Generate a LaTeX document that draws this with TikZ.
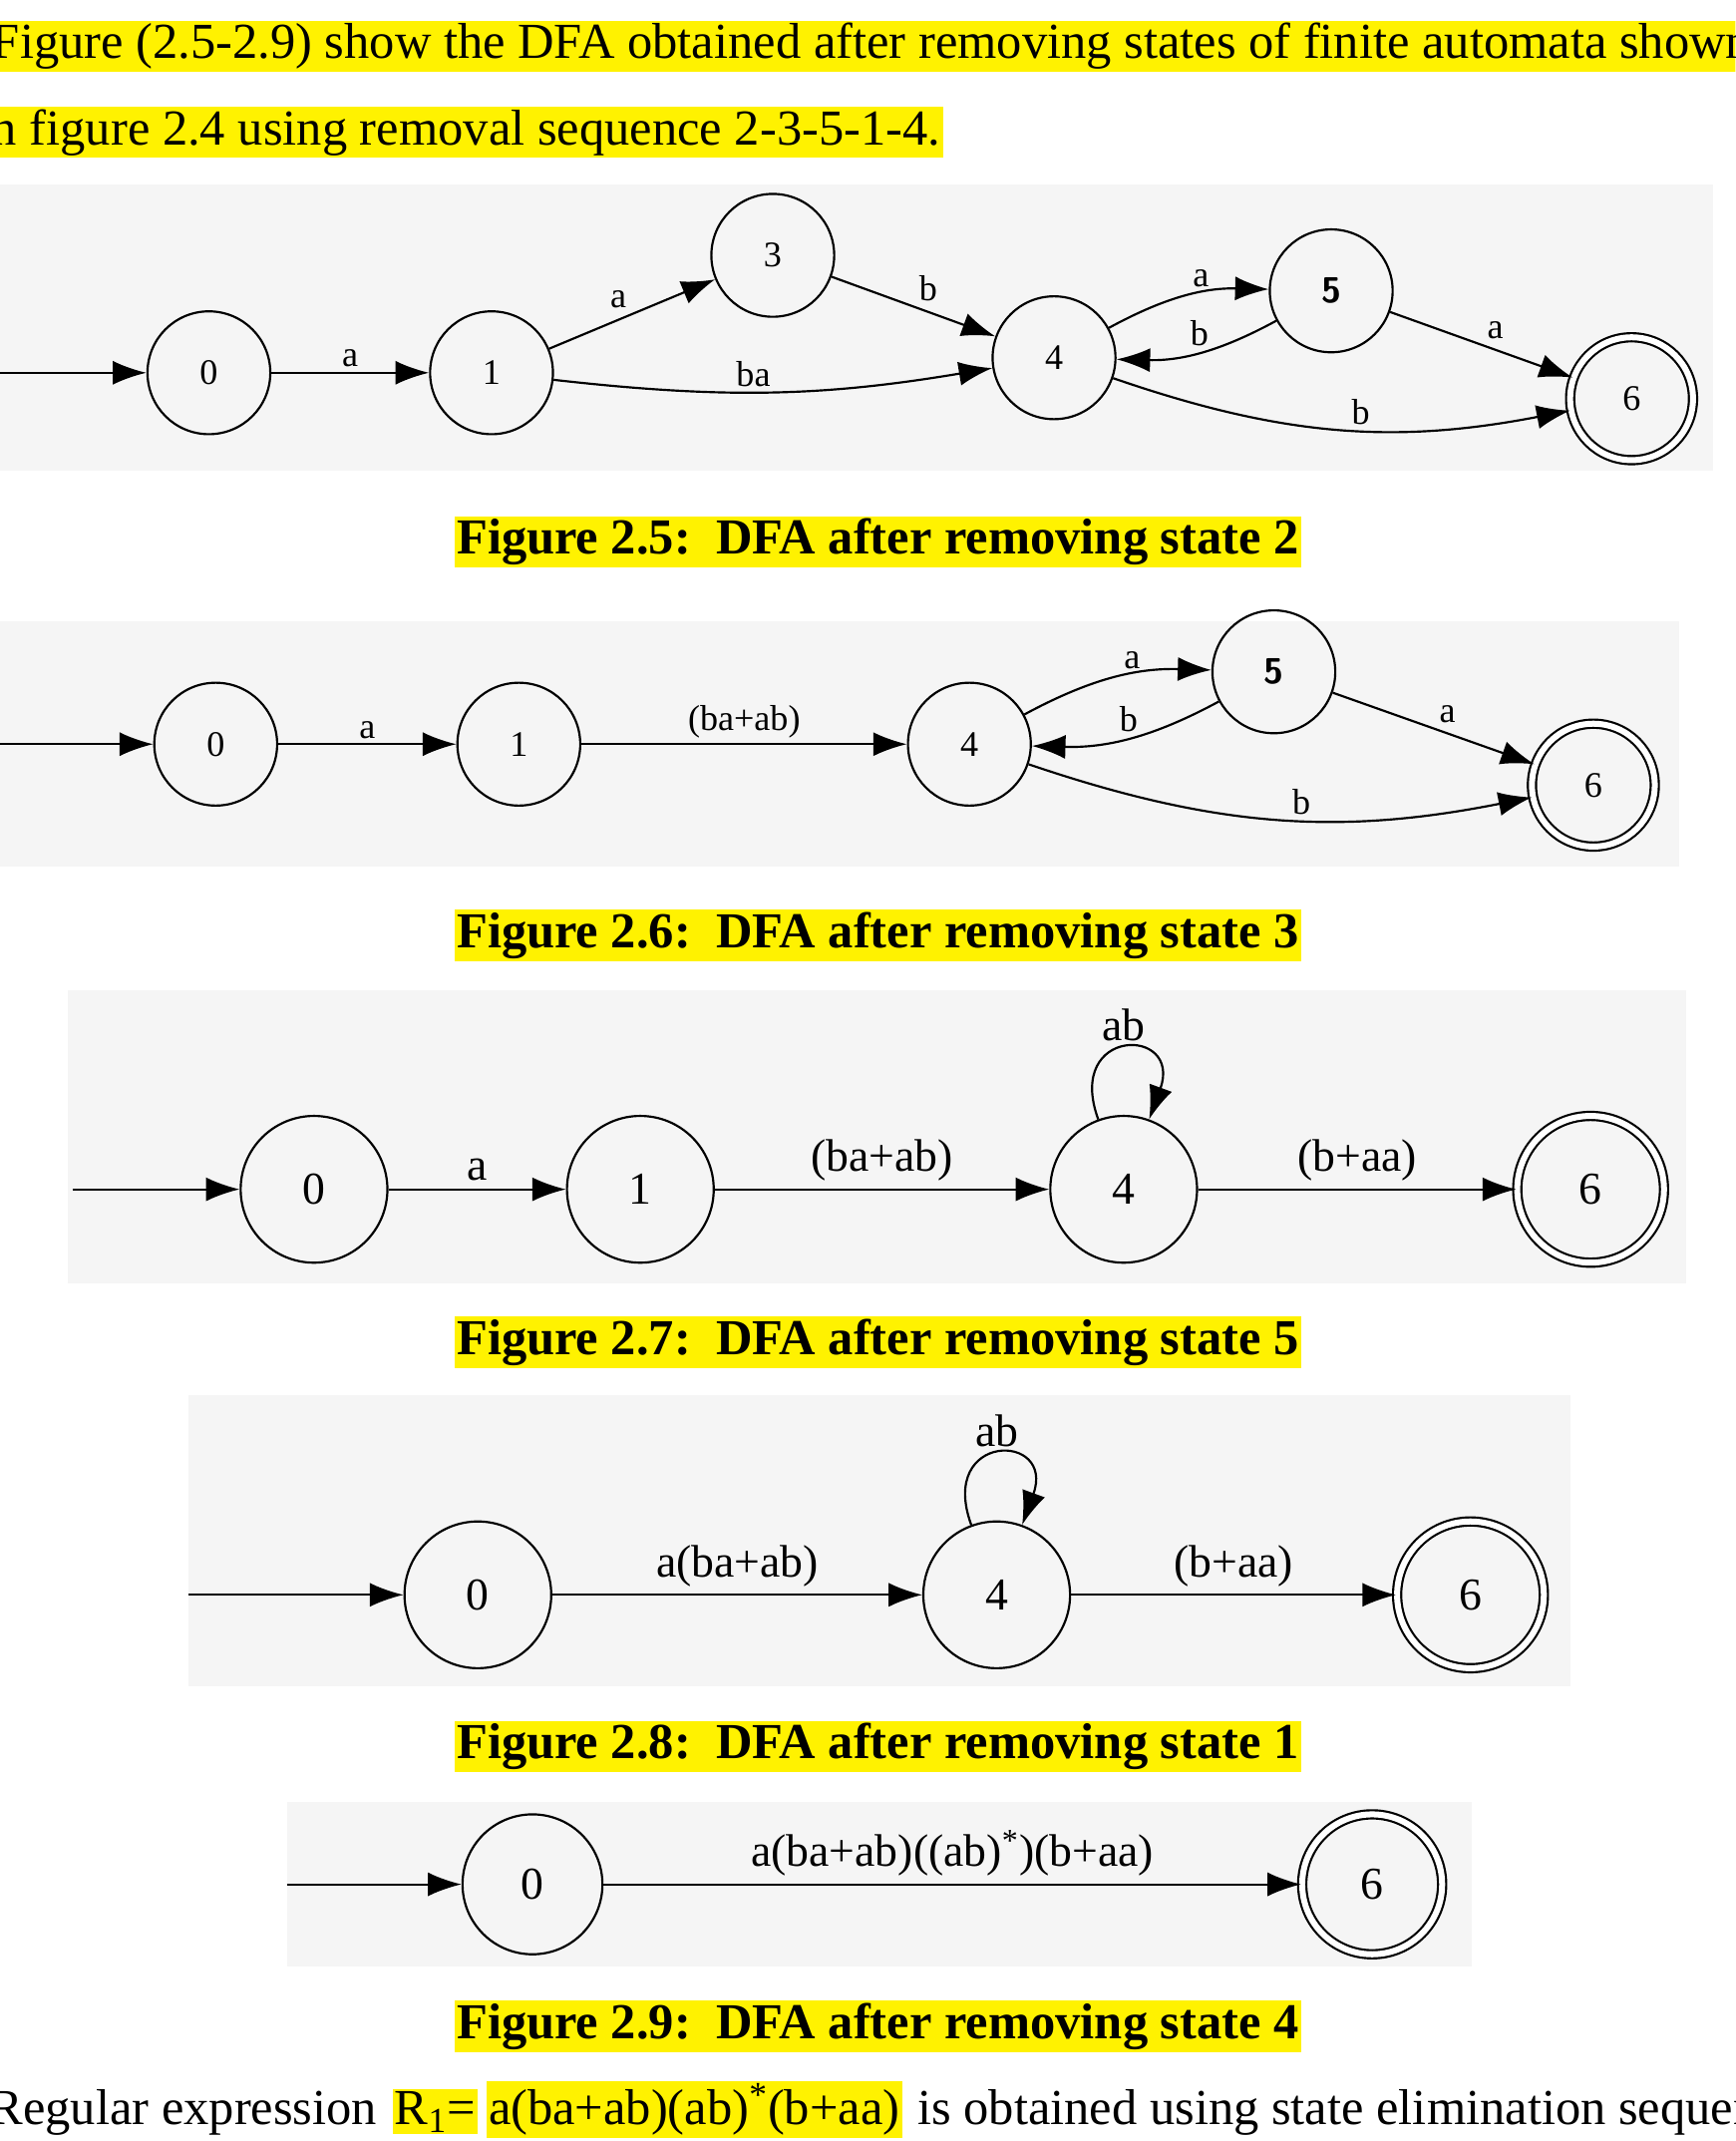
\documentclass[tikz,border=0pt]{standalone}
\usepackage{fontspec}
\setmainfont{Liberation Serif}
\usetikzlibrary{arrows.meta}
\tikzset{
  state/.style={circle,draw,line width=0.9pt,minimum size=1.8cm,inner sep=0pt,font=\fontsize{15}{18}\selectfont},
  bigstate/.style={state,minimum size=2.15cm,font=\fontsize{19}{22}\selectfont},
  final/.style={double,double distance=2.5pt},
  edge/.style={-{Latex[length=14pt,width=10pt]},line width=0.9pt},
  lbl/.style={font=\fontsize{15}{18}\selectfont,inner sep=2pt},
  biglbl/.style={font=\fontsize{19}{22}\selectfont,inner sep=3pt},
  hl/.style={fill=yellow,inner sep=1pt},
  bg/.style={fill=black!4,draw=none},
  txt/.style={font=\fontsize{21}{25}\selectfont},
  capt/.style={txt,font=\fontsize{21}{25}\selectfont\bfseries,hl}
}
\begin{document}
\begin{tikzpicture}[x=0.02cm,y=-0.02cm]
\clip (0,0) rectangle (1271,1568);
\fill[white] (0,0) rectangle (1271,1568);

% text at the top
\node[txt,hl,anchor=base west] (t1) at (-8,43) {Figure (2.5-2.9) show the DFA obtained after removing states of finite automata shown};
\node[txt,hl,anchor=base west] (t2) at (-8,106) {n figure 2.4 using removal sequence 2-3-5-1-4.};

% figure 2.5
\fill[bg] (0,135) rectangle (1255,345);
\coordinate (s5) at (0,273);
\node[state] (a0) at (153,273) {0};
\node[state] (a1) at (360,273) {1};
\node[state] (a3) at (566,187) {3};
\node[state] (a4) at (772,262) {4};
\node[state] (a5) at (975,213) {\bfseries\sffamily 5};
\node[state,final] (a6) at (1195,292) {6};
\draw[edge] (s5) -- (a0);
\draw[edge] (a0) -- node[lbl,above] {a} (a1);
\draw[edge] (a1) -- node[lbl,above left] {a} (a3);
\draw[edge] (a3) -- node[lbl,above right] {b} (a4);
\draw[edge] (a1) to[bend right=8] node[lbl,above,pos=0.45] {ba} (a4);
\draw[edge] (a4) to[bend left=15] node[lbl,above,pos=0.6] {a} (a5);
\draw[edge] (a5) to[bend left=15] node[lbl,above] {b} (a4);
\draw[edge] (a5) -- node[lbl,above right] {a} (a6);
\draw[edge] (a4) to[bend right=15] node[lbl,above,pos=0.55] {b} (a6);
\node[capt] (c5) at (643,397) {Figure 2.5:\ \ DFA after removing state 2};

% figure 2.6
\fill[bg] (0,455) rectangle (1230,635);
\coordinate (s6) at (0,545);
\node[state] (b0) at (158,545) {0};
\node[state] (b1) at (380,545) {1};
\node[state] (b4) at (710,545) {4};
\node[state] (b5) at (933,492) {\bfseries\sffamily 5};
\node[state,final] (b6) at (1167,575) {6};
\draw[edge] (s6) -- (b0);
\draw[edge] (b0) -- node[lbl,above] {a} (b1);
\draw[edge] (b1) -- node[lbl,above] {(ba+ab)} (b4);
\draw[edge] (b4) to[bend left=15] node[lbl,above,pos=0.6] {a} (b5);
\draw[edge] (b5) to[bend left=15] node[lbl,above] {b} (b4);
\draw[edge] (b5) -- node[lbl,above right] {a} (b6);
\draw[edge] (b4) to[bend right=15] node[lbl,above,pos=0.55] {b} (b6);
\node[capt] (c6) at (643,685) {Figure 2.6:\ \ DFA after removing state 3};

% figure 2.7
\fill[bg] (50,725) rectangle (1235,940);
\coordinate (s7) at (53,871);
\node[bigstate] (d0) at (230,871) {0};
\node[bigstate] (d1) at (469,871) {1};
\node[bigstate] (d4) at (823,871) {4};
\node[bigstate,final] (d6) at (1165,871) {6};
\draw[edge] (s7) -- (d0);
\draw[edge] (d0) -- node[biglbl,above] {a} (d1);
\draw[edge] (d1) -- node[biglbl,above] {(ba+ab)} (d4);
\draw[edge] (d4) -- node[biglbl,above] {(b+aa)} (d6);
\draw[edge] (d4.110) to[out=110,in=70,looseness=5] node[biglbl,above] {ab} (d4.70);
\node[capt] (c7) at (643,983) {Figure 2.7:\ \ DFA after removing state 5};

% figure 2.8
\fill[bg] (138,1022) rectangle (1150,1235);
\coordinate (s8) at (138,1168);
\node[bigstate] (e0) at (350,1168) {0};
\node[bigstate] (e4) at (730,1168) {4};
\node[bigstate,final] (e6) at (1077,1168) {6};
\draw[edge] (s8) -- (e0);
\draw[edge] (e0) -- node[biglbl,above] {a(ba+ab)} (e4);
\draw[edge] (e4) -- node[biglbl,above] {(b+aa)} (e6);
\draw[edge] (e4.110) to[out=110,in=70,looseness=5] node[biglbl,above] {ab} (e4.70);
\node[capt] (c8) at (643,1279) {Figure 2.8:\ \ DFA after removing state 1};

% figure 2.9
\fill[bg] (210,1320) rectangle (1078,1440);
\coordinate (s9) at (210,1380);
\node[bigstate,minimum size=2.05cm] (f0) at (390,1380) {0};
\node[bigstate,final,minimum size=2.05cm] (f6) at (1005,1380) {6};
\draw[edge] (s9) -- (f0);
\draw[edge] (f0) -- node[biglbl,above] {a(ba+ab)((ab)\textsuperscript{*})(b+aa)} (f6);
\node[capt] (c9) at (643,1484) {Figure 2.9:\ \ DFA after removing state 4};

% text at the bottom
\node[txt,anchor=base west,inner sep=0pt] (r1) at (-8,1556) {Regular expression};
\node[txt,hl,anchor=base west] (r2) at ([xshift=6pt]r1.base east) {R\textsubscript{1}=};
\node[txt,hl,anchor=base west] (r3) at ([xshift=3pt]r2.base east) {a(ba+ab)(ab)\textsuperscript{*}(b+aa)};
\node[txt,anchor=base west,inner sep=0pt] (r4) at ([xshift=6pt]r3.base east) {is obtained using state elimination sequence};
\end{tikzpicture}
\end{document}
